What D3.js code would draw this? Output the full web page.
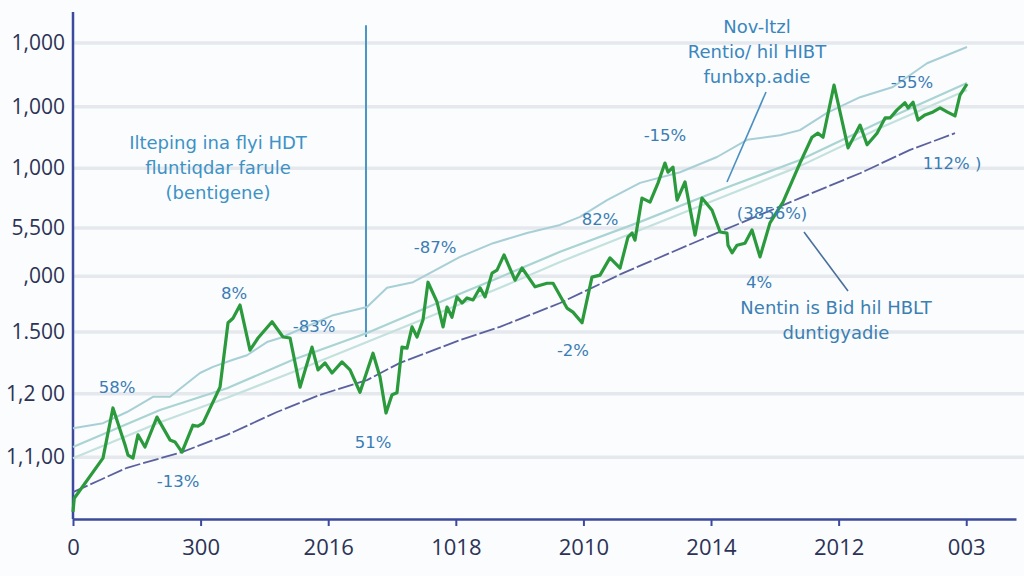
<!DOCTYPE html>
<html>
<head>
<meta charset="utf-8">
<script src="https://cdn.jsdelivr.net/npm/d3@7"></script>
<style>
  body { margin: 0; background: #fafcfd; }
  svg { display: block; font-family: "Open Sans", sans-serif; }
</style>
</head>
<body>
<svg id="chart" width="1024" height="576"></svg>
<script>
// x in tick units (0 = first tick), y in chart units (0..100)
const xTickLabels = ["0", "300", "2016", "1018", "2010", "2014", "2012", "003"];
const yTickValues = [12.2, 24.7, 36.9, 47.9, 57.4, 69.2, 81.3, 93.9];
const yTickLabels = ["1,1,00", "1,2 00", "1.500", ",000", "5,500", "1,000", "1,000", "1,000"];

// green series
const mainX = [0, 0.01, 0.235, 0.313, 0.408, 0.431, 0.470, 0.509, 0.564, 0.658, 0.760, 0.799, 0.854, 0.940, 0.980,
  1.019, 1.152, 1.215, 1.254, 1.309, 1.387, 1.450, 1.560, 1.646, 1.701, 1.779, 1.873, 1.920, 1.975, 2.030,
  2.108, 2.171, 2.249, 2.351, 2.406, 2.453, 2.500, 2.539, 2.578, 2.618, 2.657, 2.696, 2.743, 2.782, 2.853,
  2.900, 2.931, 2.970, 3.009, 3.049, 3.088, 3.135, 3.190, 3.229, 3.284, 3.323, 3.378, 3.464, 3.519, 3.621,
  3.715, 3.762, 3.871, 3.918, 3.989, 4.067, 4.130, 4.208, 4.287, 4.349, 4.381, 4.404, 4.459, 4.522, 4.585,
  4.639, 4.663, 4.702, 4.734, 4.796, 4.875, 4.929, 5.008, 5.071, 5.125, 5.133, 5.165, 5.204, 5.266, 5.321,
  5.384, 5.462, 5.564, 5.697, 5.791, 5.838, 5.878, 5.964, 6.074, 6.168, 6.223, 6.301, 6.364, 6.403, 6.458,
  6.520, 6.544, 6.583, 6.622, 6.677, 6.740, 6.795, 6.850, 6.912, 6.951, 7.006];
const mainY = [1.4, 4.1, 12.0, 21.9, 14.6, 12.6, 12.0, 16.6, 14.2, 20.1, 15.6, 15.2, 13.2, 18.5, 18.3,
  18.9, 26.0, 38.7, 39.6, 42.2, 33.3, 35.7, 38.9, 35.9, 35.7, 26.0, 33.9, 29.4, 30.8, 28.8,
  31.0, 29.4, 25.0, 32.7, 28.0, 20.9, 24.5, 24.9, 33.9, 33.7, 37.9, 35.9, 39.3, 46.7, 42.8,
  37.9, 41.8, 39.8, 43.8, 42.6, 43.6, 43.2, 45.6, 43.8, 48.5, 49.1, 52.1, 47.1, 49.5, 45.8,
  46.5, 46.5, 41.6, 40.8, 38.7, 47.7, 48.1, 51.5, 49.5, 55.6, 56.4, 55.0, 63.3, 62.5, 66.3,
  70.2, 68.4, 69.4, 62.9, 66.5, 56.0, 63.3, 60.9, 56.6, 56.4, 54.0, 52.5, 54.0, 54.4, 57.0,
  51.7, 58.4, 62.5, 70.2, 75.3, 76.1, 75.3, 85.6, 73.2, 77.7, 73.8, 76.1, 79.1, 79.1, 80.7,
  82.1, 81.1, 82.2, 78.7, 79.7, 80.3, 81.1, 80.3, 79.5, 83.6, 85.8];

// upper light band
const upperX = [0, 0.235, 0.423, 0.627, 0.760, 0.995, 1.097, 1.254, 1.364, 1.520, 1.622, 2.038, 2.304, 2.461, 2.665,
  3.033, 3.292, 3.558, 3.817, 3.973, 4.185, 4.444, 4.757, 5.047, 5.282, 5.541, 5.697, 5.909, 6.168, 6.426, 6.693, 7.006];
const upperY = [17.9, 18.9, 21.1, 24.1, 24.1, 28.8, 30.0, 31.4, 32.3, 34.9, 35.7, 40.2, 41.8, 45.6, 46.7,
  51.7, 54.4, 56.4, 58.0, 59.6, 62.9, 66.3, 68.4, 71.4, 74.8, 75.7, 76.7, 80.1, 83.2, 85.2, 89.9, 93.1];

// two middle light lines
const midX = [0, 0.682, 1.207, 1.724, 2.304, 2.821, 3.346, 3.817, 4.444, 5.071, 5.697, 6.324, 7.006];
const midAY = [14.2, 21.5, 25.8, 31.4, 36.7, 42.2, 47.7, 52.7, 58.6, 64.9, 70.8, 78.3, 86.0];
const midBY = [12.0, 19.1, 23.9, 29.0, 34.9, 40.2, 45.6, 50.7, 57.0, 63.3, 69.6, 77.1, 84.6];

// lower dashed line
const lowX = [0, 0.212, 0.423, 0.854, 1.207, 1.599, 1.936, 2.304, 2.563, 3.033, 3.346, 3.817, 4.310, 4.969, 5.697, 6.168, 6.560, 6.912];
const lowY = [5.3, 7.7, 10.1, 13.2, 16.6, 21.1, 24.5, 27.4, 30.8, 35.3, 37.9, 42.6, 48.5, 55.6, 63.3, 68.2, 72.8, 76.1];

// percent labels
const pctText = ["58%", "-13%", "8%", "-83%", "51%", "-87%", "82%", "-15%", "-2%", "(3856%)", "4%", "-55%", "112% )"];
const pctX = [0.345, 0.823, 1.262, 1.889, 2.351, 2.837, 4.130, 4.639, 3.918, 5.478, 5.376, 6.575, 6.889];
const pctY = [25.9, 7.5, 44.6, 38.0, 15.2, 53.6, 59.2, 75.7, 33.3, 60.3, 46.7, 86.2, 70.2];

const svg = d3.select("#chart");
const x = d3.scaleLinear().domain([0, 7.39]).range([73, 1016]);
const y = d3.scaleLinear().domain([0, 100]).range([519, 12]);

// grid lines
svg.append("g")
  .selectAll("line")
  .data(yTickValues)
  .join("line")
  .attr("x1", x(0))
  .attr("x2", 1024)
  .attr("y1", d => y(d))
  .attr("y2", d => y(d))
  .attr("stroke", "#e5e9ed")
  .attr("stroke-width", 3.5);

// y labels
const yAxis = svg.append("g")
  .attr("transform", `translate(${x(0)},0)`)
  .call(d3.axisLeft(y).tickValues(yTickValues).tickFormat((d, i) => yTickLabels[i]).tickSize(0).tickPadding(8));
yAxis.select(".domain").remove();
yAxis.selectAll("text").attr("font-size", 21).attr("fill", "#2c3356").attr("font-family", "Open Sans");

// x axis
const xAxis = svg.append("g")
  .attr("transform", `translate(0,${y(0)})`)
  .call(d3.axisBottom(x).tickValues(d3.range(xTickLabels.length)).tickFormat(i => xTickLabels[i])
    .tickSize(7).tickSizeOuter(0).tickPadding(13));
xAxis.select(".domain").attr("stroke", "#3b4a9c").attr("stroke-width", 2.5);
xAxis.selectAll(".tick line").attr("stroke", "#3b4a9c").attr("stroke-width", 2);
xAxis.selectAll("text").attr("font-size", 22).attr("fill", "#2c3356").attr("font-family", "Open Sans");

// y axis line
svg.append("line")
  .attr("x1", x(0)).attr("x2", x(0))
  .attr("y1", 12).attr("y2", y(0))
  .attr("stroke", "#3b4a9c")
  .attr("stroke-width", 2.5);

// vertical marker
svg.append("line")
  .attr("x1", x(2.296)).attr("x2", x(2.296))
  .attr("y1", y(97.4)).attr("y2", y(35.9))
  .attr("stroke", "#4a95c4")
  .attr("stroke-width", 2);

function drawLine(xs, ys, color, width, dash) {
  const pts = xs.map((d, i) => [d, ys[i]]);
  const line = d3.line().x(d => x(d[0])).y(d => y(d[1]));
  svg.append("path")
    .datum(pts)
    .attr("d", line)
    .attr("fill", "none")
    .attr("stroke", color)
    .attr("stroke-width", width)
    .attr("stroke-dasharray", dash || null)
    .attr("stroke-linejoin", "round");
}

drawLine(upperX, upperY, "#a8cfd6", 2);
drawLine(midX, midBY, "#c4e1dd", 2.2);
drawLine(midX, midAY, "#a9d4d3", 2.2);
drawLine(lowX, lowY, "#5b619f", 1.8, "16,3");
drawLine(mainX, mainY, "#2a9a3c", 3.2);

// pointer lines for the notes
svg.append("line")
  .attr("x1", 766).attr("y1", 92).attr("x2", 727).attr("y2", 182)
  .attr("stroke", "#4a8fc2").attr("stroke-width", 1.6);
svg.append("line")
  .attr("x1", 804).attr("y1", 232).attr("x2", 848).attr("y2", 291)
  .attr("stroke", "#4b6f9c").attr("stroke-width", 1.6);

// percent labels
svg.append("g")
  .selectAll("text")
  .data(pctText)
  .join("text")
  .attr("x", (d, i) => x(pctX[i]))
  .attr("y", (d, i) => y(pctY[i]))
  .attr("dy", "0.35em")
  .attr("text-anchor", "middle")
  .attr("font-family", "DejaVu Sans")
  .attr("font-size", 16.5)
  .attr("fill", "#3a7db5")
  .text(d => d);

// text notes
function note(lines, cx, top, color) {
  svg.append("g")
    .selectAll("text")
    .data(lines)
    .join("text")
    .attr("x", cx)
    .attr("y", (d, i) => top + i * 25)
    .attr("dy", "0.35em")
    .attr("text-anchor", "middle")
    .attr("font-family", "DejaVu Sans")
    .attr("font-size", 18)
    .attr("fill", color)
    .text(d => d);
}

note(["Ilteping ina flyi HDT", "fluntiqdar farule", "(bentigene)"], 218, 143, "#3d92c6");
note(["Nov-ltzl", "Rentio/ hil HIBT", "funbxp.adie"], 757, 27, "#3a86bd");
note(["Nentin is Bid hil HBLT", "duntigyadie"], 836, 308, "#3c7fb2");
</script>
</body>
</html>
